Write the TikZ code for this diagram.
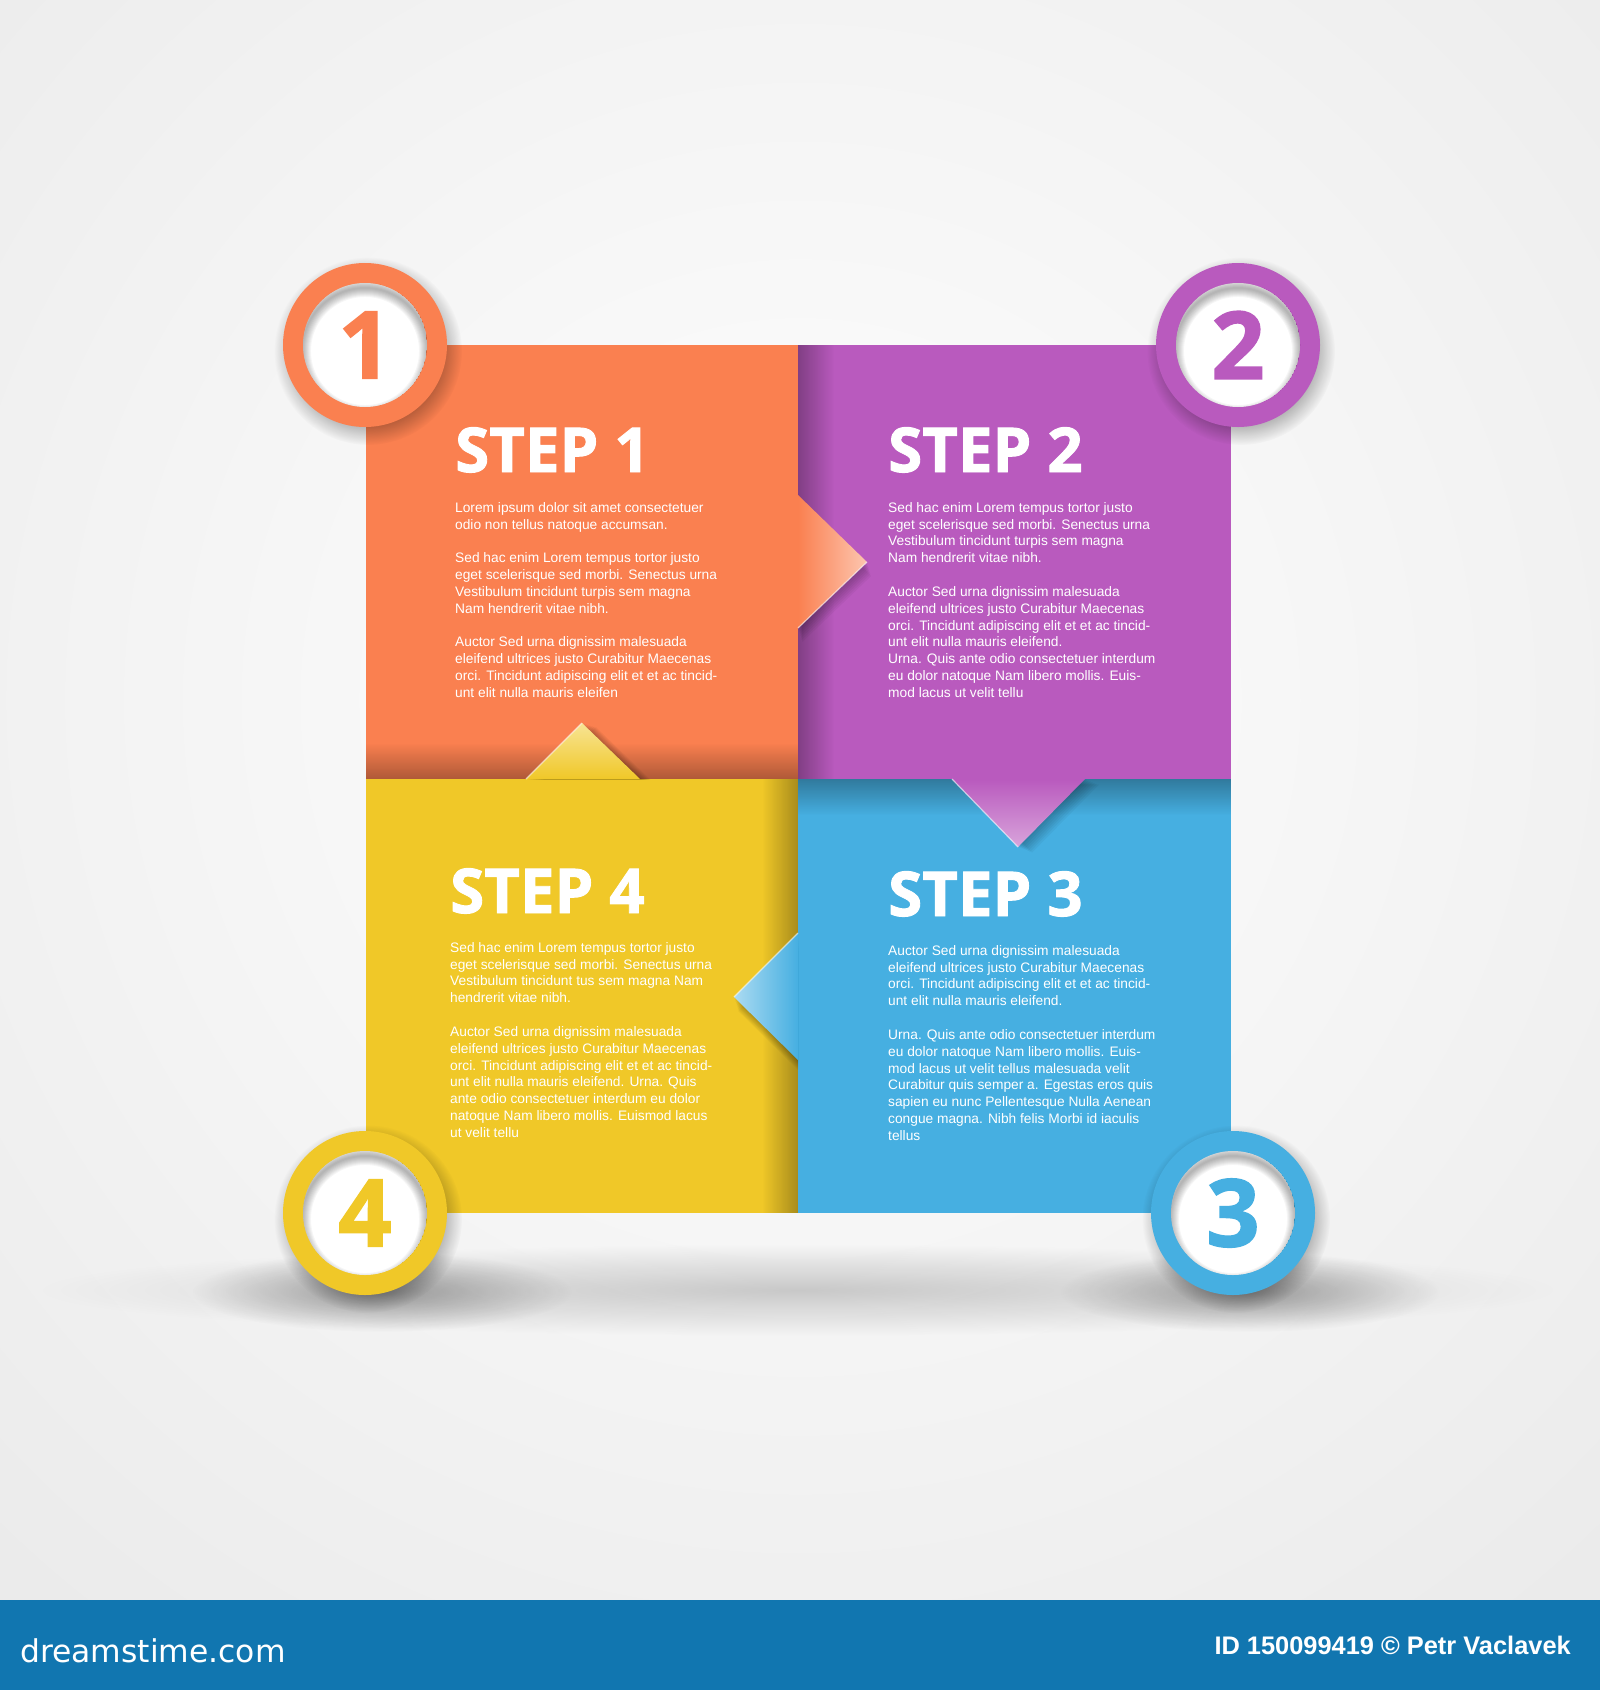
\documentclass[tikz,border=0pt]{standalone}
\usepackage{fontspec}
\setmainfont{Liberation Sans}
\newfontfamily\titlefont[BoldFeatures={FakeBold=1.5}]{Open Sans}
\newfontfamily\logofont{DejaVu Sans}
\usetikzlibrary{shapes,arrows,positioning,fadings}

\definecolor{stepone}{HTML}{FA8050}
\definecolor{steptwo}{HTML}{B95ABE}
\definecolor{stepthree}{HTML}{46AFE1}
\definecolor{stepfour}{HTML}{F0C828}
\definecolor{barblue}{HTML}{1176B0}

\tikzfading[name=soft out, inner color=transparent!0, outer color=transparent!100]
\tikzfading[name=edge right, left color=transparent!0, right color=transparent!100]
\tikzfading[name=edge left, right color=transparent!0, left color=transparent!100]
\tikzfading[name=edge down, top color=transparent!0, bottom color=transparent!100]
\tikzfading[name=edge up, bottom color=transparent!0, top color=transparent!100]

\tikzset{
  steptitle/.style={anchor=base west, inner sep=0pt, text=white,
    font=\titlefont\bfseries\fontsize{62}{62}\selectfont},
  steptext/.style={inner sep=0pt, align=left, text=white,
    font=\fontsize{13.8}{16.9}\selectfont},
  ringnum/.style={circle, inner sep=0pt,
    font=\titlefont\bfseries\fontsize{94}{94}\selectfont},
  softshadow/.style={black, opacity=#1, path fading=soft out},
  tabshadow/.style={black, opacity=.04},
}

\begin{document}
\begin{tikzpicture}[x=1bp, y=-1bp]
\useasboundingbox (0,0) rectangle (1600,1690);

% background, lighter in the middle
\begin{scope}
  \clip (0,0) rectangle (1600,1600);
  \shade[inner color=white, outer color=black!10] (-700,-800) rectangle (2300,2200);
\end{scope}

% shadow on the ground
\fill[softshadow=.18] (798,1290) ellipse (760 and 46);
\fill[softshadow=.32] (382,1292) ellipse (190 and 40);
\fill[softshadow=.32] (1250,1292) ellipse (190 and 40);

% the four fields
\fill[stepone] (366,345) rectangle (798,779);
\fill[steptwo] (798,345) rectangle (1231,779);
\fill[stepfour] (366,779) rectangle (798,1213);
\fill[stepthree] (798,779) rectangle (1231,1213);

% each field lies a little over the next one
\fill[black, opacity=.3, path fading=edge right] (798,345) rectangle (834,779);
\fill[black, opacity=.3, path fading=edge down] (798,779) rectangle (1231,815);
\fill[black, opacity=.3, path fading=edge left] (762,779) rectangle (798,1213);
\fill[black, opacity=.3, path fading=edge up] (366,743) rectangle (798,779);

% orange tab over the purple field
\begin{scope}
  \clip (798,345) rectangle (1231,779);
  \foreach \s in {2,4,...,14}
    \fill[tabshadow, shift={(.3*\s,\s)}] (798,495) -- (867,562) -- (798,628) -- cycle;
\end{scope}
\shade[left color=stepone, right color=stepone!45!white] (798,495) -- (867,562) -- (798,628) -- cycle;
\draw[white, opacity=.6, line width=1.2] (867,562) -- (798,628);

% purple tab over the blue field
\begin{scope}
  \clip (798,779) rectangle (1231,1213);
  \foreach \s in {2,4,...,14}
    \fill[tabshadow, shift={(\s,.4*\s)}] (952,779) -- (1018,847) -- (1085,779) -- cycle;
\end{scope}
\shade[top color=steptwo, bottom color=steptwo!55!white] (952,779) -- (1018,847) -- (1085,779) -- cycle;
\draw[white, opacity=.6, line width=1.2] (952,779) -- (1018,847);

% blue tab over the yellow field
\begin{scope}
  \clip (366,779) rectangle (798,1213);
  \foreach \s in {2,4,...,14}
    \fill[tabshadow, shift={(.3*\s,\s)}] (798,933) -- (734,997) -- (798,1060) -- cycle;
\end{scope}
\shade[right color=stepthree, left color=stepthree!45!white] (798,933) -- (734,997) -- (798,1060) -- cycle;
\draw[white, opacity=.6, line width=1.2] (798,933) -- (734,997);

% yellow tab over the orange field
\begin{scope}
  \clip (366,345) rectangle (798,779);
  \foreach \s in {2,4,...,14}
    \fill[tabshadow, shift={(\s,.3*\s)}] (526,779) -- (582,723) -- (640,779) -- cycle;
\end{scope}
\shade[bottom color=stepfour, top color=stepfour!50!white] (526,779) -- (582,723) -- (640,779) -- cycle;
\draw[white, opacity=.6, line width=1.2] (526,779) -- (582,723);

% number rings on the corners
\foreach \nm/\cx/\cy/\col/\num in {one/365/345/stepone/1, two/1238/345/steptwo/2,
    three/1233/1213/stepthree/3, four/365/1213/stepfour/4}{
  \fill[black, opacity=.25, path fading=circle with fuzzy edge 20 percent] (\cx+3,\cy+6) circle (94);
  \node[circle, fill=\col, minimum size=164bp, inner sep=0pt] (ring-\nm) at (\cx,\cy) {};
  \begin{scope}
    \clip (\cx,\cy) circle (62);
    \fill[white] (\cx,\cy) circle (62);
    \foreach \w in {2,4,...,18}
      \draw[black, opacity=.035, line width=\w*1pt] (\cx,\cy+6) circle (63);
  \end{scope}
  \node[ringnum, text=\col] (num-\nm) at (\cx,\cy) {\num};
}

% titles and texts
\node[steptitle] (title-one) at (455,472) {STEP 1};
\node[steptext, below=30bp of title-one.base west, anchor=north west] (text-one) {%
Lorem ipsum dolor sit amet consectetuer\\
odio non tellus natoque accumsan.\\[16.9bp]
Sed hac enim Lorem tempus tortor justo\\
eget scelerisque sed morbi. Senectus urna\\
Vestibulum tincidunt turpis sem magna\\
Nam hendrerit vitae nibh.\\[16.9bp]
Auctor Sed urna dignissim malesuada\\
eleifend ultrices justo Curabitur Maecenas\\
orci. Tincidunt adipiscing elit et et ac tincid-\\
unt elit nulla mauris eleifen};

\node[steptitle] (title-two) at (888,472) {STEP 2};
\node[steptext, below=30bp of title-two.base west, anchor=north west] (text-two) {%
Sed hac enim Lorem tempus tortor justo\\
eget scelerisque sed morbi. Senectus urna\\
Vestibulum tincidunt turpis sem magna\\
Nam hendrerit vitae nibh.\\[16.9bp]
Auctor Sed urna dignissim malesuada\\
eleifend ultrices justo Curabitur Maecenas\\
orci. Tincidunt adipiscing elit et et ac tincid-\\
unt elit nulla mauris eleifend.\\
Urna. Quis ante odio consectetuer interdum\\
eu dolor natoque Nam libero mollis. Euis-\\
mod lacus ut velit tellu};

\node[steptitle] (title-three) at (888,916) {STEP 3};
\node[steptext, below=29bp of title-three.base west, anchor=north west] (text-three) {%
Auctor Sed urna dignissim malesuada\\
eleifend ultrices justo Curabitur Maecenas\\
orci. Tincidunt adipiscing elit et et ac tincid-\\
unt elit nulla mauris eleifend.\\[16.9bp]
Urna. Quis ante odio consectetuer interdum\\
eu dolor natoque Nam libero mollis. Euis-\\
mod lacus ut velit tellus malesuada velit\\
Curabitur quis semper a. Egestas eros quis\\
sapien eu nunc Pellentesque Nulla Aenean\\
congue magna. Nibh felis Morbi id iaculis\\
tellus};

\node[steptitle] (title-four) at (450,913) {STEP 4};
\node[steptext, below=29bp of title-four.base west, anchor=north west] (text-four) {%
Sed hac enim Lorem tempus tortor justo\\
eget scelerisque sed morbi. Senectus urna\\
Vestibulum tincidunt tus sem magna Nam\\
hendrerit vitae nibh.\\[16.9bp]
Auctor Sed urna dignissim malesuada\\
eleifend ultrices justo Curabitur Maecenas\\
orci. Tincidunt adipiscing elit et et ac tincid-\\
unt elit nulla mauris eleifend. Urna. Quis\\
ante odio consectetuer interdum eu dolor\\
natoque Nam libero mollis. Euismod lacus\\
ut velit tellu};

% bottom bar
\fill[barblue] (0,1600) rectangle (1600,1690);
\node[anchor=base west, inner sep=0pt, text=white,
  font=\logofont\fontsize{31.5}{31.5}\selectfont] (logo) at (20,1662) {dreamstime.com};
\node[anchor=base east, inner sep=0pt, text=white,
  font=\bfseries\fontsize{25.5}{25.5}\selectfont] (credit) at (1571,1654) {ID 150099419 © Petr Vaclavek};
\end{tikzpicture}
\end{document}
